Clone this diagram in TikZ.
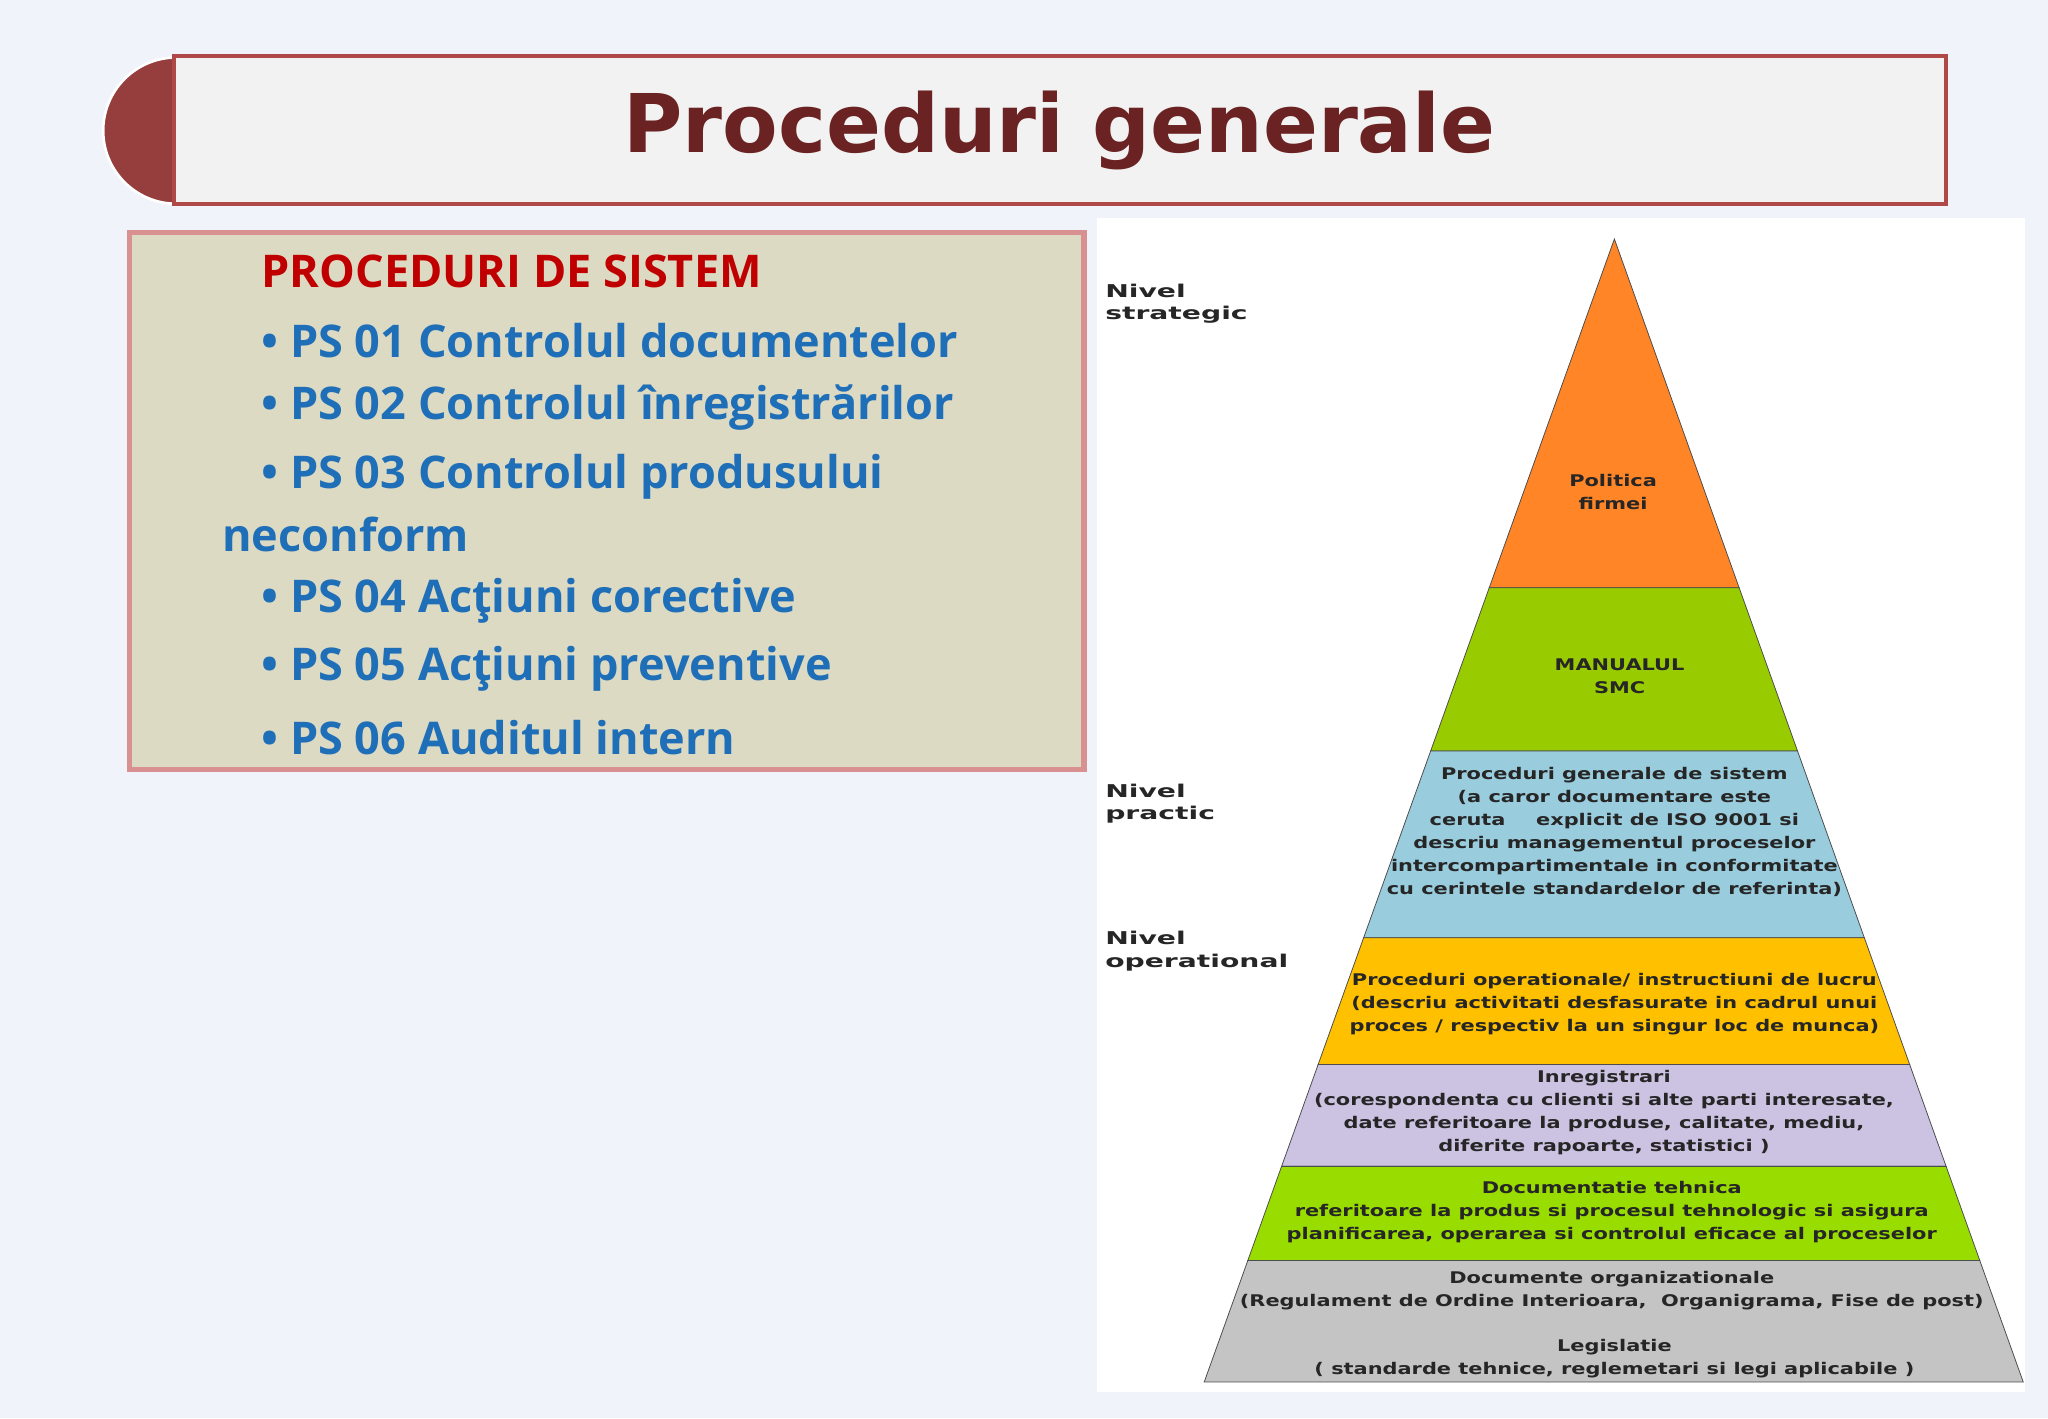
\documentclass[tikz,border=0pt]{standalone}
\usepackage{fontspec}
\setmainfont{DejaVu Sans}
\newfontfamily\boxfont{Open Sans}
\newfontfamily\pyrfont{DejaVu Sans}[FakeStretch=1.3]
\newfontfamily\lvlfont{DejaVu Sans}[FakeStretch=1.6]
\definecolor{bgc}{HTML}{F0F4FA}
\definecolor{titlec}{HTML}{6B2222}
\definecolor{barb}{HTML}{B04848}
\definecolor{boxf}{HTML}{DDDAC4}
\definecolor{boxb}{HTML}{D99090}
\definecolor{bluet}{HTML}{1F6FB8}
\definecolor{redt}{HTML}{C00000}
\definecolor{c1}{HTML}{FF8526}
\definecolor{c2}{HTML}{99CC00}
\definecolor{c3}{HTML}{99CCDD}
\definecolor{c4}{HTML}{FFC000}
\definecolor{c5}{HTML}{CCC2E2}
\definecolor{c6}{HTML}{99DD00}
\definecolor{c7}{HTML}{C4C4C4}
\tikzset{
 lt/.style={anchor=west,font=\boxfont\bfseries\fontsize{34.5}{40}\selectfont,text=bluet,inner sep=0},
 pt/.style={align=center,font=\pyrfont\bfseries\fontsize{12.3}{17.5}\selectfont,text=black!85,inner sep=0},
 lvl/.style={anchor=north west,align=left,font=\lvlfont\bfseries\fontsize{13.5}{17}\selectfont,text=black!85,inner sep=0}
}
\begin{document}
\begin{tikzpicture}[x=1pt,y=-1pt]
\useasboundingbox (0,0) rectangle (1568,1086);
\fill[bgc] (0,0) rectangle (1568,1086);
% title
\fill[barb!85!black,draw=white,line width=2pt] (135,100) circle (56);
\draw[barb,line width=3pt,fill=white!95!black] (133,43) rectangle (1490,156);
\node[font=\bfseries\fontsize{62}{70}\selectfont,text=titlec] (title) at (811,100) {Proceduri generale};
% left box
\draw[boxb,line width=4pt,fill=boxf] (99,178) rectangle (830,589);
\node[lt,text=redt] (h) at (200,208) {PROCEDURI DE SISTEM};
\node[lt] (l1) at (200,261) {• PS 01 Controlul documentelor};
\node[lt] (l2) at (200,312) {• PS 02 Controlul înregistrărilor};
\node[lt] (l3) at (200,365) {• PS 03 Controlul produsului};
\node[lt] (l3b) at (170,409) {neconform};
\node[lt] (l4) at (200,460) {• PS 04 Acţiuni corective};
\node[lt] (l5) at (200,512) {• PS 05 Acţiuni preventive};
\node[lt] (l6) at (200,565) {• PS 06 Auditul intern};
% pyramid panel
\fill[white] (840,167) rectangle (1550,1066);
\def\xl#1{(1236-(#1-183)*0.35886)}
\def\xr#1{(1236+(#1-183)*0.35771)}
\def\band#1#2#3{\fill[#3,draw=black!70,line width=0.6pt] ({\xl{#1}},#1) -- ({\xr{#1}},#1) -- ({\xr{#2}},#2) -- ({\xl{#2}},#2) -- cycle;}
\fill[c1,draw=black!70,line width=0.6pt] (1236,183) -- ({\xr{450}},450) -- ({\xl{450}},450) -- cycle;
\band{450}{575}{c2}
\band{575}{718}{c3}
\band{718}{815}{c4}
\band{815}{893}{c5}
\band{893}{965}{c6}
\band{965}{1058}{c7}
\node[pt] (p1) at (1235,377) {Politica\\firmei};
\node[pt] (p2) at (1240,518) {MANUALUL\\SMC};
\node[pt] (p3) at (1236,637) {Proceduri generale de sistem\\(a caror documentare este\\ceruta\quad\ \ explicit de ISO 9001 si\\descriu managementul proceselor\\intercompartimentale in conformitate\\cu cerintele standardelor de referinta)};
\node[pt] (p4) at (1236,769) {Proceduri operationale/ instructiuni de lucru\\(descriu activitati desfasurate in cadrul unui\\proces / respectiv la un singur loc de munca)};
\node[pt] (p5) at (1228,852) {Inregistrari\\(corespondenta cu clienti si alte parti interesate,\\date referitoare la produse, calitate, mediu,\\diferite rapoarte, statistici )};
\node[pt] (p6) at (1234,928) {Documentatie tehnica\\referitoare la produs si procesul tehnologic si asigura\\planificarea, operarea si controlul eficace al proceselor};
\node[pt] (p7) at (1234,988) {Documente organizationale\\(Regulament de Ordine Interioara,\ \ Organigrama, Fise de post)};
\node[pt] (p8) at (1236,1040) {Legislatie\\( standarde tehnice, reglemetari si legi aplicabile )};
\node[lvl] (n1) at (846,217) {Nivel\\strategic};
\node[lvl] (n2) at (846,600) {Nivel\\practic};
\node[lvl] (n3) at (846,713) {Nivel\\operational};
\end{tikzpicture}
\end{document}
